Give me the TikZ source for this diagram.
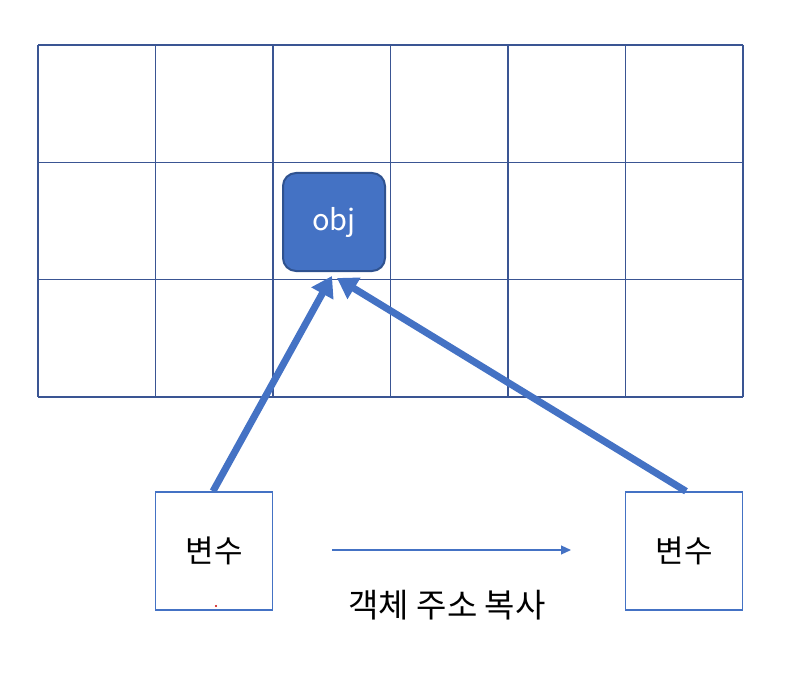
\documentclass[tikz,border=0pt]{standalone}
\usepackage{fontspec}
\usepackage{tikz}
\usepackage{xcolor}
\usetikzlibrary{arrows.meta}
\newfontfamily\kofont{Noto Sans CJK KR}
\definecolor{gridblue}{HTML}{3A5593}
\definecolor{boxblue}{HTML}{4472C4}
\definecolor{darkblue}{HTML}{2F528F}
\tikzset{
    var-box/.style = {draw=boxblue, fill=white, line width=1.5pt, rectangle, minimum width=117pt, minimum height=118pt, inner sep=0pt, font=\kofont\fontsize{31}{36}\selectfont},
    obj-box/.style = {draw=darkblue, fill=boxblue, line width=2pt, rectangle, rounded corners=13pt, minimum width=102pt, minimum height=98pt, text=white, font=\kofont\fontsize{29}{34}\selectfont},
    ref-arrow/.style = {draw=boxblue, line width=7pt, -{Triangle[length=20pt, width=24pt]}},
    copy-arrow/.style = {draw=boxblue, line width=1.2pt, -{Triangle[length=10pt, width=9pt]}},
}

\begin{document}
\begin{tikzpicture}[x=1pt, y=-1pt]
\useasboundingbox (0,0) rectangle (790,674);
% memory grid
\foreach \i in {0,...,6}
    \draw[gridblue, line width=1.2pt] (38+\i*117.5,45) -- (38+\i*117.5,397);
\foreach \j in {0,...,3}
    \draw[gridblue, line width=1.2pt] (38,45+\j*117.33) -- (743,45+\j*117.33);

\node [obj-box] (obj) at (334,222) {obj};
\node [var-box] (var-a) at (214,551) {변수};
\node [var-box] (var-b) at (684,551) {변수};

\draw [ref-arrow] ([xshift=-1pt]var-a.north) -- ([xshift=-2pt, yshift=-4pt]obj.south);
\draw [ref-arrow] ([xshift=2pt]var-b.north) -- ([xshift=3pt, yshift=-6pt]obj.south);

\coordinate (copy-start) at (332,550);
\coordinate (copy-end) at (571,550);
\draw [copy-arrow] (copy-start) -- (copy-end);
\node [font=\kofont\fontsize{33}{38}\selectfont] (copy-label) at (447,605) {객체 주소 복사};

\fill [red!80!black] (216,606) circle (1.2pt);
\end{tikzpicture}
\end{document}
